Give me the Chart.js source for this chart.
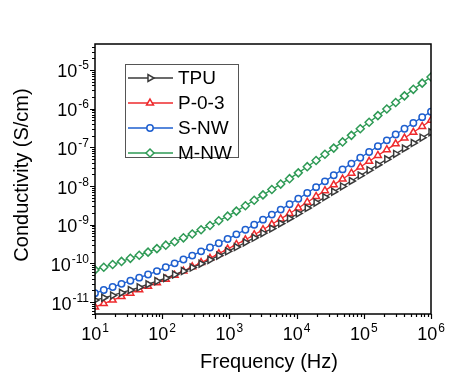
<!DOCTYPE html>
<html>
<head>
<meta charset="utf-8">
<script src="https://cdn.jsdelivr.net/npm/chart.js@4.4.1/dist/chart.umd.min.js"></script>
<style>
  body { margin: 0; background: #fff; }
  canvas { display: block; }
</style>
</head>
<body>
<canvas id="chart" width="474" height="386"></canvas>
<script>
// frequency (Hz) of every measured point
const freq = [10, 13.5, 18.3, 24.8, 33.6, 45.5, 61.6, 83.4, 113, 153, 207, 280, 379, 514, 695, 941,
  1270, 1730, 2340, 3160, 4280, 5800, 7850, 10600, 14400, 19500, 26400, 35700, 48300, 65400, 88600,
  120000, 162000, 220000, 298000, 403000, 546000, 739000, 1000000]

// conductivity as log10(S/cm)
const tpuLog = [-10.95, -10.89, -10.83, -10.76, -10.69, -10.62, -10.54, -10.46, -10.38, -10.29,
  -10.2, -10.11, -10.01, -9.91, -9.8, -9.69, -9.58, -9.46, -9.34, -9.22,
  -9.1, -8.97, -8.84, -8.71, -8.57, -8.43, -8.29, -8.15, -8.01, -7.87,
  -7.73, -7.59, -7.45, -7.31, -7.17, -7.03, -6.89, -6.75, -6.61]
const p03Log = [-11.13, -11.04, -10.95, -10.86, -10.77, -10.68, -10.59, -10.5, -10.41, -10.31,
  -10.2, -10.09, -9.98, -9.87, -9.75, -9.63, -9.51, -9.39, -9.26, -9.13,
  -8.99, -8.85, -8.71, -8.57, -8.42, -8.27, -8.12, -7.97, -7.82, -7.67,
  -7.51, -7.36, -7.21, -7.06, -6.91, -6.76, -6.61, -6.46, -6.3]
const snwLog = [-10.77, -10.69, -10.61, -10.53, -10.45, -10.37, -10.29, -10.2, -10.1, -10.0,
  -9.9, -9.8, -9.69, -9.59, -9.48, -9.37, -9.25, -9.13, -9.0, -8.87,
  -8.74, -8.61, -8.47, -8.33, -8.18, -8.03, -7.88, -7.72, -7.57, -7.42,
  -7.27, -7.12, -6.97, -6.82, -6.67, -6.52, -6.37, -6.22, -6.08]
const mnwLog = [-10.17, -10.1, -10.03, -9.95, -9.87, -9.79, -9.71, -9.62, -9.53, -9.44,
  -9.34, -9.24, -9.13, -9.02, -8.9, -8.78, -8.65, -8.51, -8.37, -8.23,
  -8.09, -7.95, -7.81, -7.66, -7.5, -7.34, -7.18, -7.02, -6.86, -6.69,
  -6.52, -6.35, -6.18, -6.01, -5.84, -5.67, -5.5, -5.34, -5.18]

const seriesNames = ['TPU', 'P-0-3', 'S-NW', 'M-NW']
const xTickExps = [1, 2, 3, 4, 5, 6]
const yTickExps = [-11, -10, -9, -8, -7, -6, -5]

const FONT = '"Liberation Sans", Arial, sans-serif'

function toPoints(logs) {
  return freq.map((f, i) => ({ x: f, y: Math.pow(10, logs[i]) }))
}

function series(label, logs, color, style, rotation, radius) {
  return {
    label: label,
    data: toPoints(logs),
    borderColor: color,
    backgroundColor: '#fff',
    borderWidth: 1.3,
    pointStyle: style,
    pointRotation: rotation,
    pointRadius: radius,
    pointBorderColor: color,
    pointBackgroundColor: '#fff',
    pointBorderWidth: 1.5,
    tension: 0,
  }
}

// text like 10^n with a raised exponent
function powerLabel(ctx, exp, x, baseline, align) {
  ctx.font = '18px ' + FONT
  const base = '10'
  const bw = ctx.measureText(base).width
  ctx.font = '12px ' + FONT
  const sup = String(exp)
  const sw = ctx.measureText(sup).width
  const total = bw + 1 + sw
  let left = align === 'right' ? x - total : x - total / 2
  ctx.textAlign = 'left'
  ctx.textBaseline = 'alphabetic'
  ctx.font = '18px ' + FONT
  ctx.fillText(base, left, baseline)
  ctx.font = '12px ' + FONT
  ctx.fillText(sup, left + bw + 1, baseline - 8)
}

const decorations = {
  id: 'decorations',
  afterDatasetsDraw(chart) {
    const { ctx, chartArea: a, scales: { x, y } } = chart
    ctx.save()
    ctx.fillStyle = '#000'
    ctx.strokeStyle = '#000'
    ctx.lineWidth = 1.5
    ctx.strokeRect(a.left, a.top, a.right - a.left, a.bottom - a.top)

    // ticks, outward
    ctx.lineWidth = 1.2
    ctx.beginPath()
    for (let e = 1; e <= 6; e++) {
      for (let m = 1; m <= 9; m++) {
        const v = m * Math.pow(10, e)
        if (v > 1e6 * 1.0001) break
        const px = Math.round(x.getPixelForValue(v)) + 0.5
        const len = m === 1 ? 5 : 3
        ctx.moveTo(px, a.bottom)
        ctx.lineTo(px, a.bottom + len)
      }
    }
    for (let e = -12; e <= -5; e++) {
      for (let m = 1; m <= 9; m++) {
        const v = m * Math.pow(10, e)
        if (v < y.min || v > y.max) continue
        const py = Math.round(y.getPixelForValue(v)) + 0.5
        const len = m === 1 ? 5 : 3
        ctx.moveTo(a.left, py)
        ctx.lineTo(a.left - len, py)
      }
    }
    ctx.stroke()

    // tick labels
    xTickExps.forEach((e) => {
      powerLabel(ctx, e, x.getPixelForValue(Math.pow(10, e)), 340, 'center')
    })
    yTickExps.forEach((e) => {
      powerLabel(ctx, e, 89, y.getPixelForValue(Math.pow(10, e)) + 7.5, 'right')
    })

    // axis titles
    ctx.font = '20px ' + FONT
    ctx.textAlign = 'center'
    ctx.textBaseline = 'alphabetic'
    ctx.fillText('Frequency (Hz)', 269, 368)
    ctx.save()
    ctx.translate(28, 175)
    ctx.rotate(-Math.PI / 2)
    ctx.fillText('Conductivity (S/cm)', 0, 0)
    ctx.restore()

    // legend box
    ctx.strokeStyle = '#555'
    ctx.lineWidth = 1
    ctx.strokeRect(125.5, 64.5, 113, 93)
    const rows = [78, 103, 128, 153]
    chart.data.datasets.forEach((ds, i) => {
      const ly = rows[i]
      ctx.strokeStyle = ds.borderColor
      ctx.lineWidth = 1.5
      ctx.beginPath()
      ctx.moveTo(128, ly)
      ctx.lineTo(173, ly)
      ctx.stroke()
      ctx.fillStyle = '#fff'
      ctx.lineWidth = ds.pointBorderWidth
      Chart.helpers.drawPoint(ctx, {
        pointStyle: ds.pointStyle,
        rotation: ds.pointRotation,
        radius: ds.pointRadius,
        borderWidth: ds.pointBorderWidth,
      }, 150, ly)
      ctx.fillStyle = '#000'
      ctx.font = '19px ' + FONT
      ctx.textAlign = 'left'
      ctx.textBaseline = 'middle'
      ctx.fillText(ds.label, 178, ly + 1)
    })
    ctx.restore()
  },
}

new Chart(document.getElementById('chart'), {
  type: 'line',
  data: {
    datasets: [
      series(seriesNames[0], tpuLog, '#3a3a3a', 'triangle', 90, 4),
      series(seriesNames[1], p03Log, '#ee2a2d', 'triangle', 0, 4),
      series(seriesNames[2], snwLog, '#1e5fcf', 'circle', 0, 3.2),
      series(seriesNames[3], mnwLog, '#2e9a55', 'rectRot', 0, 4),
    ],
  },
  options: {
    responsive: false,
    animation: false,
    devicePixelRatio: 1,
    layout: { padding: { top: 44, right: 43, left: 0, bottom: 0 } },
    plugins: {
      legend: { display: false },
      tooltip: { enabled: false },
    },
    scales: {
      x: {
        type: 'logarithmic',
        min: 10,
        max: 1e6,
        grid: { display: false },
        border: { display: false },
        ticks: { display: false },
        afterFit: (s) => { s.height = 72 },
      },
      y: {
        type: 'logarithmic',
        min: 4.9e-12,
        max: 4.7e-5,
        grid: { display: false },
        border: { display: false },
        ticks: { display: false },
        afterFit: (s) => { s.width = 95 },
      },
    },
  },
  plugins: [decorations],
})
</script>
</body>
</html>
